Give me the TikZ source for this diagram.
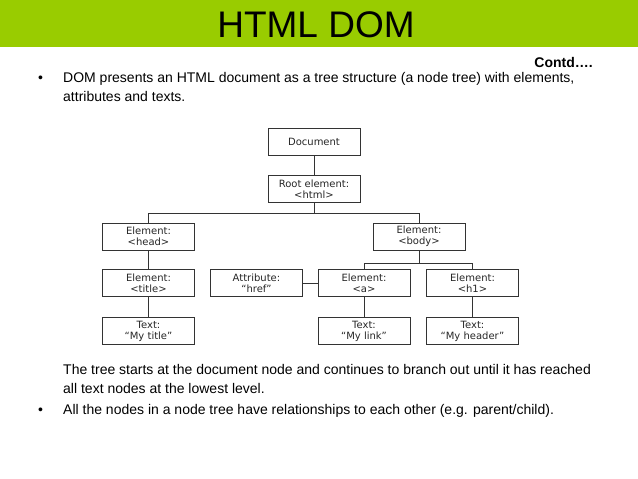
\documentclass[tikz,border=0pt]{standalone}
\usepackage{fontspec}
\setmainfont{Liberation Sans}
\newfontfamily\boxfont{DejaVu Sans}
\definecolor{bar}{HTML}{99CC00}
\begin{document}
\begin{tikzpicture}[x=1pt,y=-1pt,
  bx/.style={draw=black!80,line width=0.8pt,minimum width=92pt,minimum height=27pt,inner sep=0pt,align=center,font=\boxfont\fontsize{10}{11}\selectfont,text=black!85},
  ln/.style={draw=black!80,line width=0.8pt},
  txt/.style={anchor=base west,inner sep=0pt,font=\fontsize{14}{16}\selectfont}]
\useasboundingbox (0,0) rectangle (638,479);
\fill[bar] (0,0) rectangle (638,47);
\node[font=\fontsize{37}{40}\selectfont] (title) at (316,25) {HTML DOM};
\node[anchor=base east,inner sep=0pt,font=\bfseries\fontsize{14}{16}\selectfont] (contd) at (593,67) {Contd….};
\node[txt] (b1) at (38,82) {•};
\node[txt] (l1) at (63,82) {DOM presents an HTML document as a tree structure (a node tree) with elements,};
\node[txt] (l2) at (63,101) {attributes and texts.};
\node[bx] (doc) at (314,142) {Document};
\node[bx] (root) at (314,189) {Root element:\\<html>};
\node[bx] (head) at (148.5,236.5) {Element:\\<head>};
\node[bx] (body) at (419,236.5) {Element:\\<body>};
\node[bx] (ttl) at (148.5,283) {Element:\\<title>};
\node[bx] (attr) at (256.5,283) {Attribute:\\“href”};
\node[bx] (a) at (364,283) {Element:\\<a>};
\node[bx] (h1) at (472.5,283) {Element:\\<h1>};
\node[bx] (t1) at (148.5,331) {Text:\\“My title”};
\node[bx] (t2) at (364,331) {Text:\\“My link”};
\node[bx] (t3) at (472.5,331) {Text:\\“My header”};
\draw[ln] (doc) -- (root);
\draw[ln] (root.south) -- ++(0,10.5) -| (head.north);
\draw[ln] (root.south) -- ++(0,10.5) -| (body.north);
\draw[ln] (head) -- (ttl);
\draw[ln] (ttl) -- (t1);
\draw[ln] (body.south) -- ++(0,12.5) -| (a.north);
\draw[ln] (body.south) -- ++(0,12.5) -| (h1.north);
\draw[ln] (attr) -- (a);
\draw[ln] (a) -- (t2);
\draw[ln] (h1) -- (t3);
\node[txt] (l3) at (63,374) {The tree starts at the document node and continues to branch out until it has reached};
\node[txt] (l4) at (63,393) {all text nodes at the lowest level.};
\node[txt] (b2) at (38,414) {•};
\node[txt] (l5) at (63,414) {All the nodes in a node tree have relationships to each other (e.g. parent/child).};
\end{tikzpicture}
\end{document}
